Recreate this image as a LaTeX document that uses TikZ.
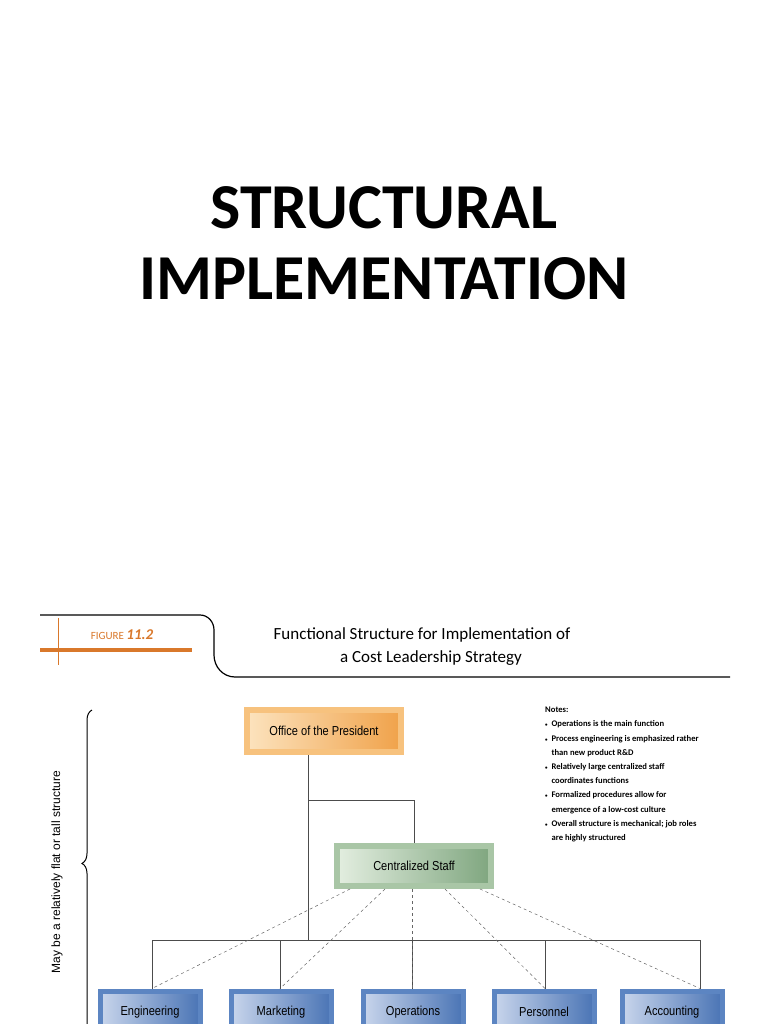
\documentclass[tikz,border=0pt]{standalone}
\usepackage{fontspec}
\setmainfont{Carlito}
\newfontfamily\arial[FakeStretch=0.85]{Liberation Sans}
\newfontfamily\arialw{Liberation Sans}
\usetikzlibrary{decorations.pathreplacing}
\definecolor{org}{HTML}{D9782B}
\definecolor{oL}{HTML}{FCE3BE}\definecolor{oD}{HTML}{F0A24A}\definecolor{oB}{HTML}{F7C27E}
\definecolor{gL}{HTML}{E3EEE0}\definecolor{gD}{HTML}{7FA67F}\definecolor{gB}{HTML}{A9C6A6}
\definecolor{bL}{HTML}{C9D6EC}\definecolor{bD}{HTML}{4A74B5}\definecolor{bB}{HTML}{5C85C2}
\begin{document}
\begin{tikzpicture}[x=1pt,y=-1pt,
  box/.style={minimum width=100pt,minimum height=42pt,inner sep=0pt,font=\arial\fontsize{13}{15}\selectfont},
  obox/.style={box,draw=oB,line width=6pt,left color=oL,right color=oD},
  gbox/.style={box,draw=gB,line width=6pt,left color=gL,right color=gD},
  bbox/.style={box,draw=bB,line width=5pt,left color=bL,right color=bD},
  conn/.style={draw=black!70,line width=0.5pt},
  dconn/.style={draw=black!60,dashed,line width=0.5pt}]
\useasboundingbox (0,0) rectangle (768,1024);
\clip (0,0) rectangle (768,1024);
\node[font=\bfseries\fontsize{64}{71}\selectfont,align=center] (title) at (384,243) {STRUCTURAL\\IMPLEMENTATION};
% header frame
\draw[line width=1.2pt] (40,615) -- (200,615) to[out=0,in=90] (214,630) -- (214,655) to[out=-90,in=180] (235,677) -- (730,677);
\draw[org,line width=1pt] (58,618) -- (58,665);
\draw[org,line width=4pt] (40,650) -- (192,650);
\node[font=\fontsize{11}{12}\selectfont,text=org] (fig) at (122,635) {FIGURE \textbf{\textit{\fontsize{15}{16}\selectfont 11.2}}};
\node[font=\fontsize{17}{23}\selectfont,align=center] (ftitle) at (422,647) {Functional Structure for Implementation of\\\hspace*{18pt}a Cost Leadership Strategy};
% brace and side text
\draw[decorate,decoration={brace,amplitude=10pt,aspect=0.535},line width=1pt] (92,1040) -- (92,710);
\node[rotate=90,font=\arialw\fontsize{12}{14}\selectfont] (side) at (57,872) {May be a relatively flat or tall structure};
% notes
\node[anchor=north west,align=left,font=\bfseries\fontsize{8.6}{14.2}\selectfont,inner sep=0pt] (notes) at (545,707) {Notes:\\
{\tiny\textbullet}\ \ Operations is the main function\\
{\tiny\textbullet}\ \ Process engineering is emphasized rather\\
\hphantom{{\tiny\textbullet}\ \ }than new product R\&D\\
{\tiny\textbullet}\ \ Relatively large centralized staff\\
\hphantom{{\tiny\textbullet}\ \ }coordinates functions\\
{\tiny\textbullet}\ \ Formalized procedures allow for\\
\hphantom{{\tiny\textbullet}\ \ }emergence of a low-cost culture\\
{\tiny\textbullet}\ \ Overall structure is mechanical; job roles\\
\hphantom{{\tiny\textbullet}\ \ }are highly structured};
% boxes
\node[obox,minimum width=154pt,minimum height=42pt] (pres) at (324,731) {Office of the President};
\node[gbox,minimum width=154pt,minimum height=40pt] (staff) at (414,866) {Centralized Staff};
\node[bbox] (eng) at (150,1012) {Engineering};
\node[bbox] (mkt) at (281,1012) {Marketing};
\node[bbox] (ops) at (413,1012) {Operations};
\node[bbox] (per) at (544,1012) {Personnel};
\node[bbox] (acc) at (672,1012) {Accounting};
\coordinate (busL) at (152,940);
\coordinate (busR) at (700,940);
\coordinate (kn) at (308,800);
% solid connectors
\draw[conn] (pres.south -| kn) -- (308,940);
\draw[conn] (kn) -| (staff.north);
\draw[conn] (busL) -- (busR);
\foreach \b/\x in {eng/152,mkt/280,ops/412,per/545,acc/700}
  \draw[conn] (\x,940) -- (\b.north -| \x,0);
% dashed
\foreach \b/\x/\s in {eng/152/350,mkt/280/385,ops/412/412,per/545/445,acc/700/480}
  \draw[dconn] (staff.south -| \s,0) -- (\b.north -| \x,0);
\end{tikzpicture}
\end{document}
